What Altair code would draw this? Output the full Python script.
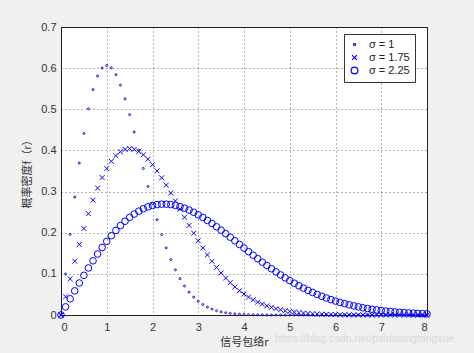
import altair as alt
import pandas as pd

# envelope r (x values)
r = [0.0, 0.1, 0.2, 0.3, 0.4, 0.5, 0.6, 0.7, 0.8, 0.9,
     1.0, 1.1, 1.2, 1.3, 1.4, 1.5, 1.6, 1.7, 1.8, 1.9,
     2.0, 2.1, 2.2, 2.3, 2.4, 2.5, 2.6, 2.7, 2.8, 2.9,
     3.0, 3.1, 3.2, 3.3, 3.4, 3.5, 3.6, 3.7, 3.8, 3.9,
     4.0, 4.1, 4.2, 4.3, 4.4, 4.5, 4.6, 4.7, 4.8, 4.9,
     5.0, 5.1, 5.2, 5.3, 5.4, 5.5, 5.6, 5.7, 5.8, 5.9,
     6.0, 6.1, 6.2, 6.3, 6.4, 6.5, 6.6, 6.7, 6.8, 6.9,
     7.0, 7.1, 7.2, 7.3, 7.4, 7.5, 7.6, 7.7, 7.8, 7.9,
     8.0]

# series
s1 = [0.0, 0.0995, 0.1960, 0.2868, 0.3692, 0.4412, 0.5012, 0.5479, 0.5809, 0.6003,
      0.6065, 0.6007, 0.5841, 0.5585, 0.5254, 0.4870, 0.4448, 0.4007, 0.3562, 0.3125,
      0.2707, 0.2316, 0.1956, 0.1633, 0.1347, 0.1098, 0.0885, 0.0705, 0.0555, 0.0433,
      0.0333, 0.0254, 0.0191, 0.0143, 0.0105, 0.0077, 0.0055, 0.0039, 0.0028, 0.0019,
      0.0013, 0.0009, 0.0006, 0.0004, 0.0003, 0.0002, 0.0001, 0.0001, 0.0, 0.0,
      0.0, 0.0, 0.0, 0.0, 0.0, 0.0, 0.0, 0.0, 0.0, 0.0,
      0.0, 0.0, 0.0, 0.0, 0.0, 0.0, 0.0, 0.0, 0.0, 0.0,
      0.0, 0.0, 0.0, 0.0, 0.0, 0.0, 0.0, 0.0, 0.0, 0.0,
      0.0]

s2 = [0.0, 0.0443, 0.0881, 0.1307, 0.1716, 0.2102, 0.2462, 0.2790, 0.3084, 0.3341,
      0.3559, 0.3736, 0.3873, 0.3969, 0.4025, 0.4044, 0.4026, 0.3975, 0.3894, 0.3786,
      0.3654, 0.3503, 0.3335, 0.3155, 0.2966, 0.2771, 0.2573, 0.2375, 0.2179, 0.1989,
      0.1804, 0.1628, 0.1461, 0.1304, 0.1158, 0.1022, 0.0898, 0.0785, 0.0682, 0.0590,
      0.0508, 0.0435, 0.0370, 0.0314, 0.0265, 0.0222, 0.0186, 0.0154, 0.0128, 0.0105,
      0.0086, 0.0070, 0.0057, 0.0046, 0.0037, 0.0029, 0.0023, 0.0019, 0.0015, 0.0011,
      0.0009, 0.0007, 0.0005, 0.0004, 0.0003, 0.0002, 0.0002, 0.0001, 0.0001, 0.0001,
      0.0001, 0.0, 0.0, 0.0, 0.0, 0.0, 0.0, 0.0, 0.0, 0.0,
      0.0]

s3 = [0.0, 0.0197, 0.0394, 0.0587, 0.0778, 0.0964, 0.1144, 0.1317, 0.1483, 0.1641,
      0.1790, 0.1928, 0.2056, 0.2173, 0.2279, 0.2373, 0.2454, 0.2524, 0.2582, 0.2628,
      0.2661, 0.2683, 0.2694, 0.2694, 0.2684, 0.2664, 0.2634, 0.2596, 0.2550, 0.2496,
      0.2436, 0.2370, 0.2299, 0.2224, 0.2144, 0.2062, 0.1977, 0.1891, 0.1803, 0.1715,
      0.1627, 0.1539, 0.1453, 0.1368, 0.1284, 0.1203, 0.1124, 0.1048, 0.0974, 0.0904,
      0.0836, 0.0772, 0.0711, 0.0653, 0.0599, 0.0548, 0.0500, 0.0455, 0.0413, 0.0374,
      0.0339, 0.0305, 0.0275, 0.0247, 0.0221, 0.0198, 0.0176, 0.0157, 0.0140, 0.0124,
      0.0109, 0.0096, 0.0085, 0.0075, 0.0065, 0.0057, 0.0050, 0.0044, 0.0038, 0.0033,
      0.0028]

series_names = ["σ = 1", "σ = 1.75", "σ = 2.25"]
x_ticks = [0, 1, 2, 3, 4, 5, 6, 7, 8]
y_ticks = [0, 0.1, 0.2, 0.3, 0.4, 0.5, 0.6, 0.7]
watermark = "https://blog.csdn.net/paidaxingtongxue"

rows = []
for name, vals in zip(series_names, [s1, s2, s3]):
    for rv, fv in zip(r, vals):
        rows.append({"r": rv, "f": fv, "series": name})
df = pd.DataFrame(rows)

X_PATH = "M-1,-1L1,1M-1,1L1,-1"
BLUE = "#0000ff"

points = alt.Chart(df).mark_point(filled=False, strokeWidth=1, opacity=1).encode(
    x=alt.X("r:Q", scale=alt.Scale(domain=[0, 8], nice=False, zero=False),
            axis=alt.Axis(values=x_ticks, title="信号包络r", format="d")),
    y=alt.Y("f:Q", scale=alt.Scale(domain=[0, 0.7], nice=False),
            axis=alt.Axis(values=y_ticks, title="概率密度f（r）", format="~g")),
    color=alt.Color("series:N", sort=series_names,
                    scale=alt.Scale(domain=series_names, range=["#1010d0", BLUE, BLUE]),
                    legend=alt.Legend(title=None, orient="none", legendX=283, legendY=7,
                                      fillColor="white", strokeColor="#333333",
                                      padding=5, labelFontSize=11, labelFont="Liberation Sans",
                                      labelColor="#222222", rowPadding=1, labelOffset=9,
                                      symbolStrokeWidth=1.2, symbolStrokeColor=BLUE)),
    shape=alt.Shape("series:N", sort=series_names,
                    scale=alt.Scale(domain=series_names, range=["circle", X_PATH, "circle"]),
                    legend=alt.Legend(title=None)),
    size=alt.Size("series:N", sort=series_names,
                  scale=alt.Scale(domain=series_names, range=[4, 44, 42]),
                  legend=alt.Legend(title=None)),
    order=alt.Order("series:N"),
)

wm = alt.Chart(pd.DataFrame({"t": [watermark]})).mark_text(
    fontSize=10.5, font="Liberation Sans", color="#dadada", align="left", baseline="middle"
).encode(text="t:N", x=alt.value(214), y=alt.value(312))

chart = alt.layer(points, wm).properties(
    width=366, height=288,
    background="#f0f0f0",
    padding={"left": 61, "top": 27, "right": 47, "bottom": 38},
    autosize=alt.AutoSizeParams(type="none"),
).configure_view(
    fill="white", stroke="#262626", strokeWidth=1
).configure_axis(
    grid=True, gridColor="#000000", gridDash=[1, 3], gridOpacity=0.6, gridWidth=1,
    domain=False, ticks=False,
    labelFont="Liberation Sans", labelFontSize=11, labelColor="#333333",
    titleFont="Noto Sans CJK SC", titleFontSize=11, titleFontWeight="normal",
    titleColor="#333333",
).configure_axisX(
    labelPadding=6, titlePadding=4,
).configure_axisY(
    labelPadding=5, titlePadding=8,
)

chart.save("out.html", embed_options={"renderer": "svg", "actions": False})
